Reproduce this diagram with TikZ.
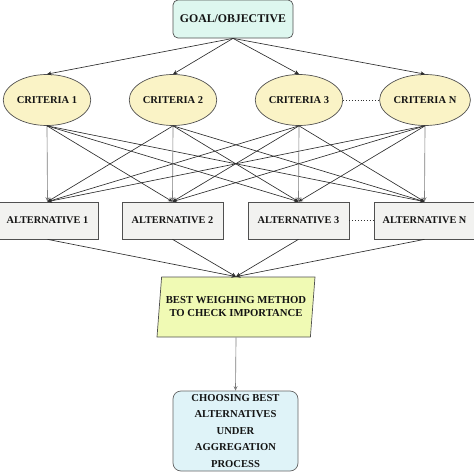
\documentclass[tikz,border=0pt]{standalone}
\usepackage{fontspec}
\setmainfont{Liberation Serif}
\usetikzlibrary{shapes.geometric,arrows.meta}

\begin{document}
\begin{tikzpicture}[x=1pt,y=1pt,yscale=-1,xscale=1,
  every node/.style={inner sep=0.75pt,text={rgb,255:red,20;green,20;blue,20}},
  goalbox/.style={draw={rgb,255:red,80;green,80;blue,80},line width=0.7pt,fill={rgb,255:red,222;green,247;blue,239},rounded corners=5pt,minimum width=120pt,minimum height=38pt,font=\bfseries\fontsize{11.8}{13}\selectfont},
  critnode/.style={ellipse,draw={rgb,255:red,80;green,80;blue,80},line width=0.7pt,fill={rgb,255:red,250;green,243;blue,198},minimum width=77pt,minimum height=51pt,font=\bfseries\fontsize{10.5}{12}\selectfont},
  altbox/.style={draw={rgb,255:red,80;green,80;blue,80},line width=0.7pt,fill={rgb,255:red,242;green,242;blue,240},minimum width=101pt,minimum height=37pt,font=\bfseries\fontsize{10.3}{12}\selectfont},
  weighbox/.style={trapezium,trapezium left angle=78,trapezium right angle=102,trapezium stretches body,draw={rgb,255:red,80;green,80;blue,80},line width=0.7pt,fill={rgb,255:red,240;green,250;blue,180},minimum width=158pt,minimum height=60pt,align=center,font=\bfseries\fontsize{10.7}{13}\selectfont},
  finalbox/.style={draw={rgb,255:red,100;green,100;blue,100},line width=0.7pt,fill={rgb,255:red,223;green,243;blue,248},rounded corners=8pt,minimum width=125pt,minimum height=80pt,align=center,font=\bfseries\fontsize{10.6}{16.5}\selectfont},
  link/.style={draw={rgb,255:red,45;green,45;blue,45},line width=0.65pt,-{Stealth[length=4.5pt,width=4pt]}},
  greylink/.style={draw={rgb,255:red,125;green,125;blue,125},line width=0.65pt,-{Stealth[length=4.5pt,width=4pt]}},
  dotlink/.style={draw={rgb,255:red,50;green,50;blue,50},dotted,line width=0.9pt}
]
\useasboundingbox (0,0) rectangle (474,474);

%Shape: Rounded Rect
\node (goal) [goalbox] at (233,19) {GOAL/OBJECTIVE};

%Shape: Ellipse
\node (crit1) [critnode] at (47,100) {CRITERIA 1};
\node (crit2) [critnode] at (173,100) {CRITERIA 2};
\node (crit3) [critnode] at (299,100) {CRITERIA 3};
\node (crit4) [critnode] at (425,100) {CRITERIA N};

%Shape: Rectangle
\node (alt1) [altbox] at (47.5,220.5) {ALTERNATIVE 1};
\node (alt2) [altbox] at (172.5,220.5) {ALTERNATIVE 2};
\node (alt3) [altbox] at (298.5,220.5) {ALTERNATIVE 3};
\node (alt4) [altbox] at (424.5,220.5) {ALTERNATIVE N};

%Shape: Parallelogram
\node (weigh) [weighbox] at (236,307) {BEST WEIGHING METHOD\\TO CHECK IMPORTANCE};

%Shape: Rounded Rect
\node (final) [finalbox] at (235.5,431) {CHOOSING BEST\\ALTERNATIVES\\UNDER\\AGGREGATION\\PROCESS};

%Straight Lines
\foreach \i in {1,...,4}
  \draw [link] (goal.south) -- (crit\i.north);
\foreach \i in {1,...,4}
  \foreach \j in {1,...,4}{
    \ifnum\i=\j
      \draw [greylink] (crit\i.south) -- (alt\j.north);
    \else
      \draw [link] (crit\i.south) -- (alt\j.north);
    \fi
  }
\foreach \j in {1,...,4}
  \draw [link] (alt\j.south) -- (weigh.north);
\draw [greylink] (weigh.south) -- (final.north);

%Dotted Lines
\draw [dotlink] (crit3.east) -- (crit4.west);
\draw [dotlink] (alt3.east) -- (alt4.west);

\end{tikzpicture}
\end{document}
